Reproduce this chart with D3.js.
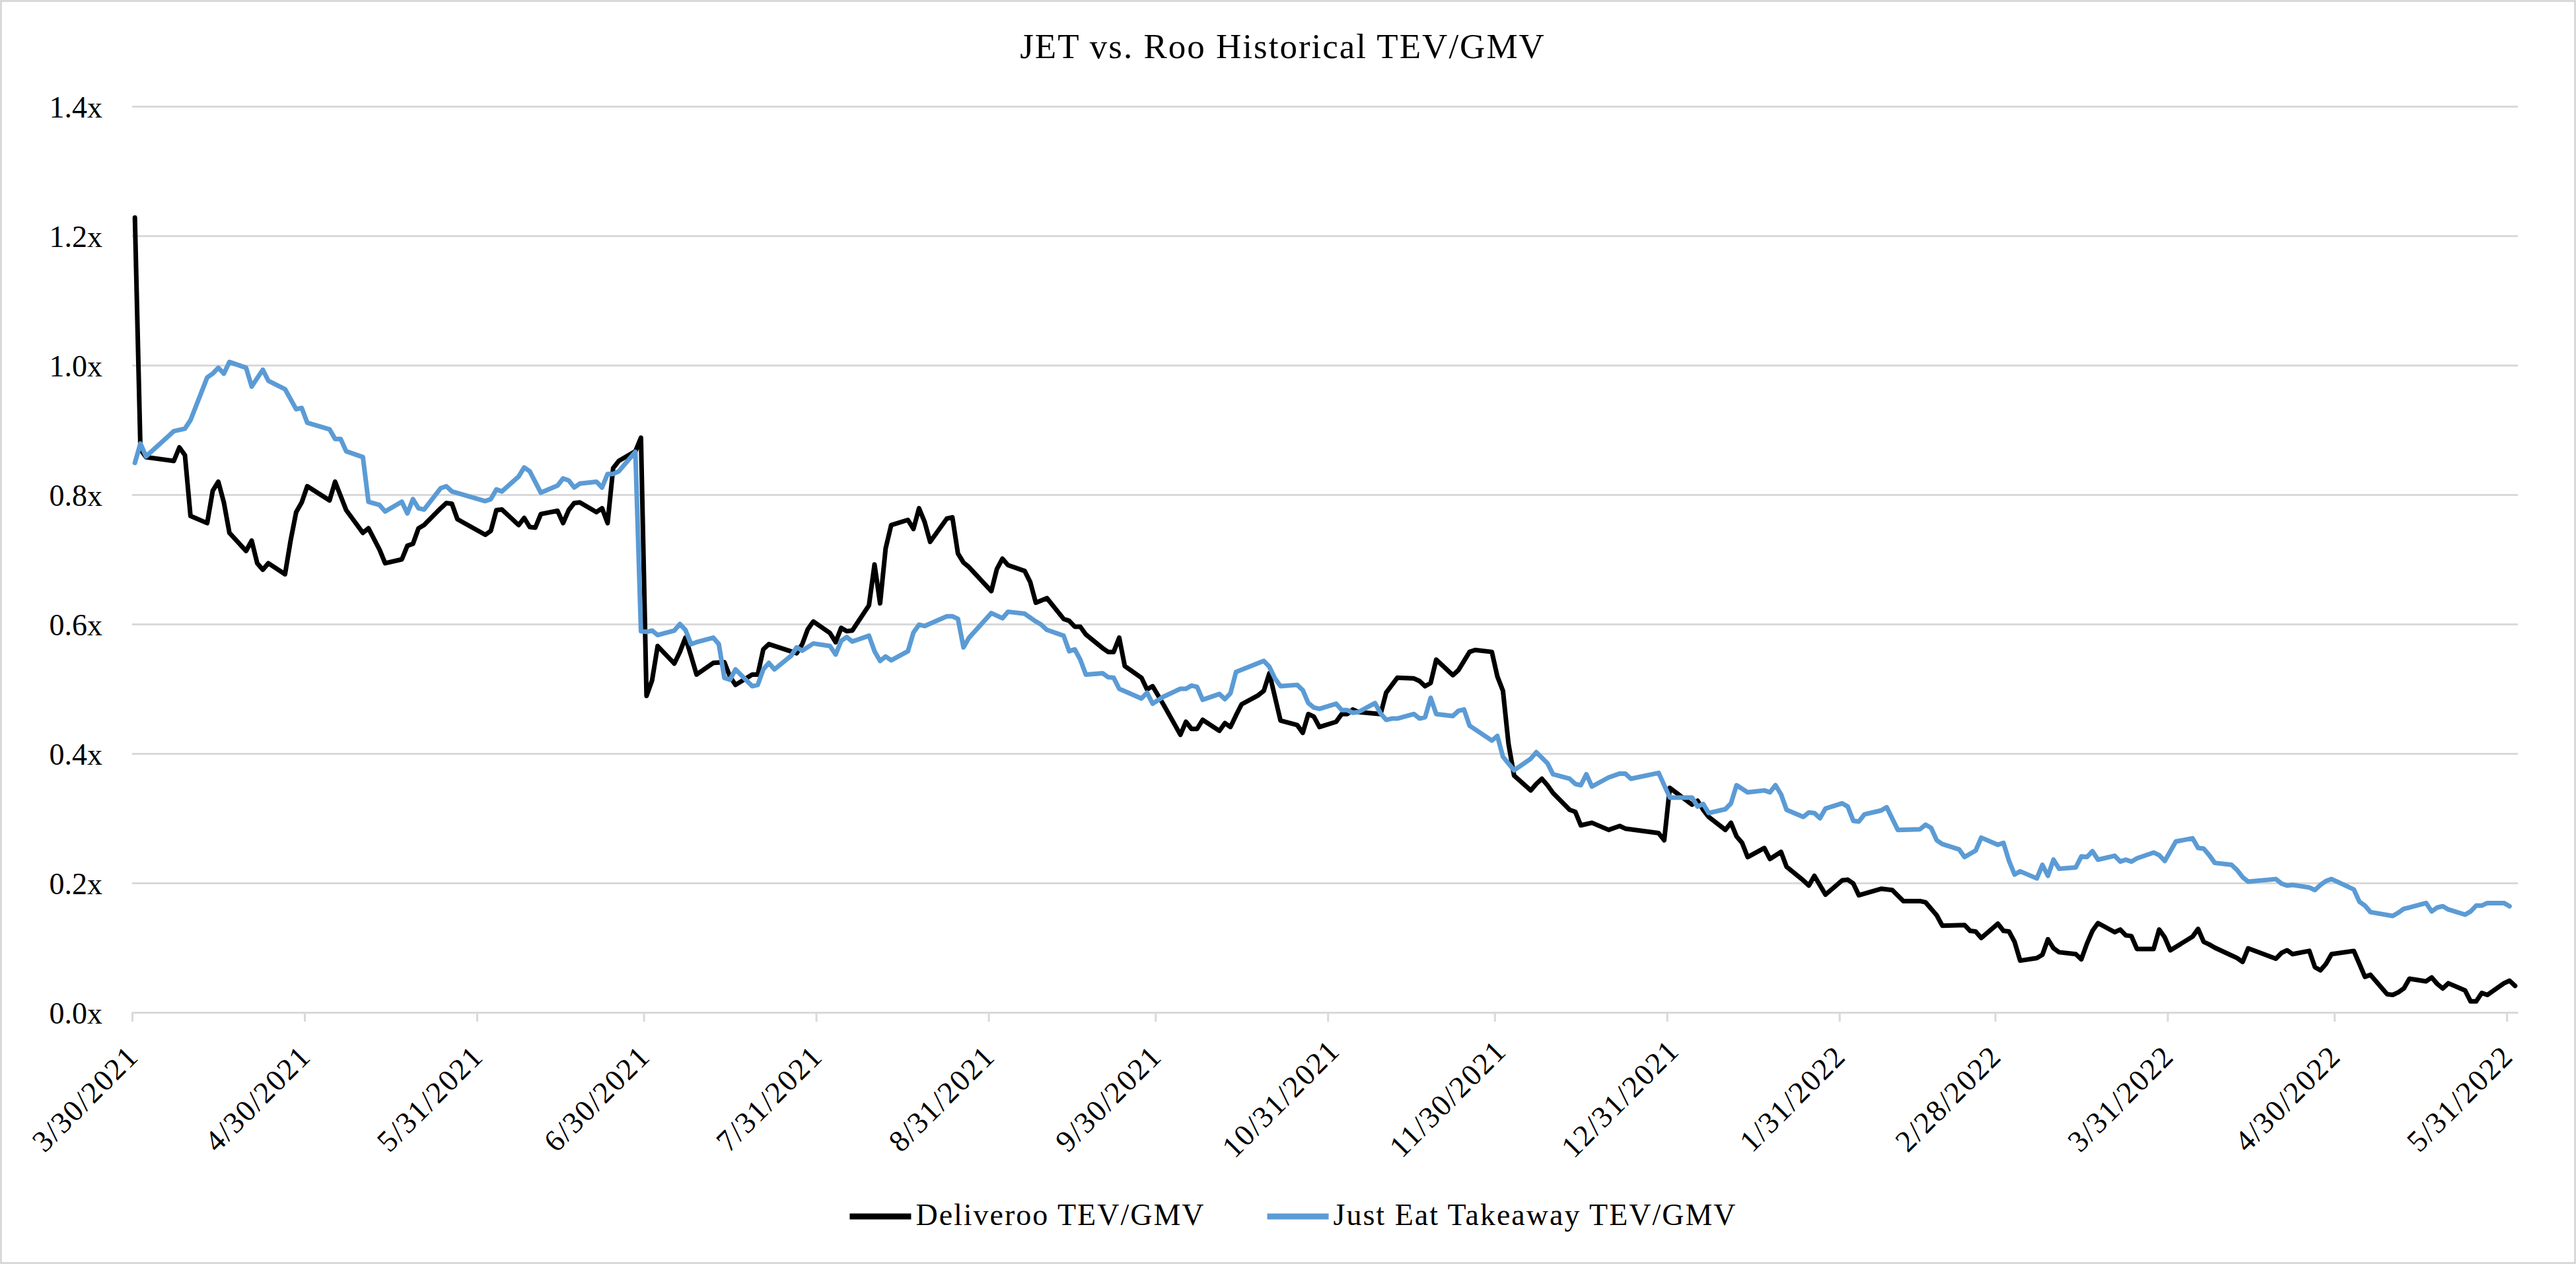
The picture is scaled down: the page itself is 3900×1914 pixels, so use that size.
<!DOCTYPE html>
<html>
<head>
<meta charset="utf-8">
<script src="https://cdn.jsdelivr.net/npm/d3@7"></script>
<style>
  body { margin: 0; background: #fff; }
  text { font-family: "Palatino Linotype", "Book Antiqua", Palatino, "Liberation Serif", serif; fill: #000; }
</style>
</head>
<body>
<svg id="chart" width="3900" height="1914"></svg>
<script>
// chart data
var chartTitle = "JET vs. Roo Historical TEV/GMV";
var seriesNames = ["Deliveroo TEV/GMV", "Just Eat Takeaway TEV/GMV"];
var seriesColors = ["#000000", "#5B9BD5"];
var xTickLabels = ["3/30/2021", "4/30/2021", "5/31/2021", "6/30/2021", "7/31/2021", "8/31/2021", "9/30/2021",
  "10/31/2021", "11/30/2021", "12/31/2021", "1/31/2022", "2/28/2022", "3/31/2022", "4/30/2022", "5/31/2022"];
var yTicks = [0, 0.2, 0.4, 0.6, 0.8, 1.0, 1.2, 1.4];
var xDomain = ["2021-03-30", "2022-06-02"];

// Deliveroo TEV/GMV
var deliveroo = [
  ["2021-03-30",1.228],["2021-03-31",0.870],["2021-04-01",0.858],["2021-04-06",0.852],["2021-04-07",0.873],
  ["2021-04-08",0.861],["2021-04-09",0.767],["2021-04-12",0.756],["2021-04-13",0.806],["2021-04-14",0.820],
  ["2021-04-15",0.788],["2021-04-16",0.741],["2021-04-19",0.713],["2021-04-20",0.729],["2021-04-21",0.694],
  ["2021-04-22",0.684],["2021-04-23",0.694],["2021-04-26",0.677],["2021-04-27",0.729],["2021-04-28",0.773],
  ["2021-04-29",0.788],["2021-04-30",0.813],["2021-05-04",0.791],["2021-05-05",0.820],["2021-05-07",0.776],
  ["2021-05-10",0.741],["2021-05-11",0.748],["2021-05-13",0.715],["2021-05-14",0.694],["2021-05-17",0.700],
  ["2021-05-18",0.721],["2021-05-19",0.724],["2021-05-20",0.748],["2021-05-21",0.753],["2021-05-24",0.779],
  ["2021-05-25",0.787],["2021-05-26",0.786],["2021-05-27",0.762],["2021-06-01",0.738],["2021-06-02",0.744],
  ["2021-06-03",0.776],["2021-06-04",0.777],["2021-06-07",0.753],["2021-06-08",0.764],["2021-06-09",0.750],
  ["2021-06-10",0.749],["2021-06-11",0.770],["2021-06-14",0.775],["2021-06-15",0.756],["2021-06-16",0.776],
  ["2021-06-17",0.787],["2021-06-18",0.788],["2021-06-21",0.773],["2021-06-22",0.779],["2021-06-23",0.756],
  ["2021-06-24",0.841],["2021-06-25",0.852],["2021-06-28",0.867],["2021-06-29",0.888],["2021-06-30",0.489],
  ["2021-07-01",0.513],["2021-07-02",0.566],["2021-07-05",0.539],["2021-07-06",0.557],["2021-07-07",0.579],
  ["2021-07-08",0.551],["2021-07-09",0.522],["2021-07-12",0.540],["2021-07-14",0.541],["2021-07-15",0.519],
  ["2021-07-16",0.506],["2021-07-19",0.522],["2021-07-20",0.522],["2021-07-21",0.561],["2021-07-22",0.569],
  ["2021-07-27",0.555],["2021-07-28",0.569],["2021-07-29",0.592],["2021-07-30",0.604],["2021-08-02",0.586],
  ["2021-08-03",0.572],["2021-08-04",0.594],["2021-08-05",0.589],["2021-08-06",0.590],["2021-08-09",0.629],
  ["2021-08-10",0.692],["2021-08-11",0.632],["2021-08-12",0.717],["2021-08-13",0.753],["2021-08-16",0.761],
  ["2021-08-17",0.747],["2021-08-18",0.779],["2021-08-19",0.758],["2021-08-20",0.727],["2021-08-23",0.763],
  ["2021-08-24",0.765],["2021-08-25",0.709],["2021-08-26",0.695],["2021-08-27",0.688],["2021-08-31",0.651],
  ["2021-09-01",0.685],["2021-09-02",0.701],["2021-09-03",0.691],["2021-09-06",0.682],["2021-09-07",0.665],
  ["2021-09-08",0.633],["2021-09-10",0.640],["2021-09-13",0.608],["2021-09-14",0.605],["2021-09-15",0.596],
  ["2021-09-16",0.596],["2021-09-17",0.584],["2021-09-20",0.563],["2021-09-21",0.557],["2021-09-22",0.557],
  ["2021-09-23",0.579],["2021-09-24",0.535],["2021-09-27",0.517],["2021-09-28",0.499],["2021-09-29",0.504],
  ["2021-10-01",0.475],["2021-10-04",0.429],["2021-10-05",0.449],["2021-10-06",0.438],["2021-10-07",0.438],
  ["2021-10-08",0.452],["2021-10-11",0.435],["2021-10-12",0.447],["2021-10-13",0.441],["2021-10-14",0.459],
  ["2021-10-15",0.476],["2021-10-18",0.490],["2021-10-19",0.497],["2021-10-20",0.524],["2021-10-22",0.451],
  ["2021-10-25",0.444],["2021-10-26",0.432],["2021-10-27",0.461],["2021-10-28",0.457],["2021-10-29",0.441],
  ["2021-11-01",0.449],["2021-11-02",0.461],["2021-11-03",0.461],["2021-11-04",0.468],["2021-11-05",0.464],
  ["2021-11-09",0.461],["2021-11-10",0.494],["2021-11-12",0.517],["2021-11-15",0.516],["2021-11-16",0.512],
  ["2021-11-17",0.504],["2021-11-18",0.509],["2021-11-19",0.545],["2021-11-22",0.521],["2021-11-23",0.529],
  ["2021-11-25",0.557],["2021-11-26",0.560],["2021-11-29",0.557],["2021-11-30",0.519],["2021-12-01",0.497],
  ["2021-12-02",0.415],["2021-12-03",0.366],["2021-12-06",0.343],["2021-12-07",0.353],["2021-12-08",0.361],
  ["2021-12-09",0.351],["2021-12-10",0.339],["2021-12-13",0.313],["2021-12-14",0.310],["2021-12-15",0.289],
  ["2021-12-17",0.293],["2021-12-20",0.282],["2021-12-22",0.288],["2021-12-23",0.284],["2021-12-29",0.277],
  ["2021-12-30",0.266],["2021-12-31",0.347],["2022-01-02",0.334],["2022-01-04",0.321],["2022-01-05",0.327],
  ["2022-01-06",0.313],["2022-01-07",0.302],["2022-01-10",0.282],["2022-01-11",0.293],["2022-01-12",0.272],
  ["2022-01-13",0.262],["2022-01-14",0.240],["2022-01-17",0.254],["2022-01-18",0.237],["2022-01-20",0.248],
  ["2022-01-21",0.225],["2022-01-24",0.204],["2022-01-25",0.196],["2022-01-26",0.211],["2022-01-28",0.182],
  ["2022-01-31",0.204],["2022-02-01",0.205],["2022-02-02",0.199],["2022-02-03",0.181],["2022-02-07",0.191],
  ["2022-02-09",0.189],["2022-02-11",0.172],["2022-02-14",0.172],["2022-02-15",0.170],["2022-02-17",0.150],
  ["2022-02-18",0.134],["2022-02-22",0.135],["2022-02-23",0.126],["2022-02-24",0.125],["2022-02-25",0.115],
  ["2022-02-28",0.137],["2022-03-01",0.126],["2022-03-02",0.125],["2022-03-03",0.109],["2022-03-04",0.080],
  ["2022-03-07",0.084],["2022-03-08",0.089],["2022-03-09",0.113],["2022-03-10",0.099],["2022-03-11",0.093],
  ["2022-03-14",0.090],["2022-03-15",0.082],["2022-03-16",0.106],["2022-03-17",0.126],["2022-03-18",0.138],
  ["2022-03-21",0.124],["2022-03-22",0.128],["2022-03-23",0.119],["2022-03-24",0.118],["2022-03-25",0.098],
  ["2022-03-28",0.098],["2022-03-29",0.128],["2022-03-30",0.116],["2022-03-31",0.096],["2022-04-04",0.117],
  ["2022-04-05",0.129],["2022-04-06",0.109],["2022-04-07",0.105],["2022-04-08",0.100],["2022-04-11",0.088],
  ["2022-04-12",0.084],["2022-04-13",0.078],["2022-04-14",0.099],["2022-04-19",0.083],["2022-04-20",0.092],
  ["2022-04-21",0.096],["2022-04-22",0.090],["2022-04-25",0.095],["2022-04-26",0.070],["2022-04-27",0.065],
  ["2022-04-28",0.075],["2022-04-29",0.090],["2022-05-03",0.095],["2022-05-04",0.075],["2022-05-05",0.055],
  ["2022-05-06",0.058],["2022-05-09",0.028],["2022-05-10",0.027],["2022-05-11",0.031],["2022-05-12",0.037],
  ["2022-05-13",0.052],["2022-05-16",0.048],["2022-05-17",0.054],["2022-05-18",0.044],["2022-05-19",0.037],
  ["2022-05-20",0.045],["2022-05-23",0.034],["2022-05-24",0.017],["2022-05-25",0.017],["2022-05-26",0.030],
  ["2022-05-27",0.027],["2022-05-30",0.045],["2022-05-31",0.049],["2022-06-01",0.041]
];

// Just Eat Takeaway TEV/GMV
var justEat = [
  ["2021-03-30",0.849],["2021-03-31",0.879],["2021-04-01",0.859],["2021-04-06",0.898],["2021-04-08",0.902],
  ["2021-04-09",0.915],["2021-04-12",0.981],["2021-04-13",0.987],["2021-04-14",0.996],["2021-04-15",0.987],
  ["2021-04-16",1.005],["2021-04-19",0.996],["2021-04-20",0.967],["2021-04-22",0.993],["2021-04-23",0.976],
  ["2021-04-26",0.963],["2021-04-28",0.932],["2021-04-29",0.934],["2021-04-30",0.911],["2021-05-04",0.901],
  ["2021-05-05",0.886],["2021-05-06",0.886],["2021-05-07",0.867],["2021-05-10",0.858],["2021-05-11",0.789],
  ["2021-05-13",0.784],["2021-05-14",0.774],["2021-05-17",0.789],["2021-05-18",0.771],["2021-05-19",0.793],
  ["2021-05-20",0.779],["2021-05-21",0.777],["2021-05-24",0.810],["2021-05-25",0.813],["2021-05-26",0.805],
  ["2021-06-01",0.790],["2021-06-02",0.793],["2021-06-03",0.808],["2021-06-04",0.805],["2021-06-07",0.828],
  ["2021-06-08",0.842],["2021-06-09",0.836],["2021-06-11",0.803],["2021-06-14",0.814],["2021-06-15",0.825],
  ["2021-06-16",0.822],["2021-06-17",0.811],["2021-06-18",0.817],["2021-06-21",0.820],["2021-06-22",0.811],
  ["2021-06-23",0.832],["2021-06-24",0.832],["2021-06-25",0.836],["2021-06-28",0.866],["2021-06-29",0.589],
  ["2021-06-30",0.588],["2021-07-01",0.590],["2021-07-02",0.583],["2021-07-05",0.590],["2021-07-06",0.600],
  ["2021-07-07",0.591],["2021-07-08",0.569],["2021-07-09",0.572],["2021-07-12",0.579],["2021-07-13",0.569],
  ["2021-07-14",0.517],["2021-07-15",0.514],["2021-07-16",0.530],["2021-07-19",0.504],["2021-07-20",0.506],
  ["2021-07-21",0.530],["2021-07-22",0.540],["2021-07-23",0.530],["2021-07-26",0.551],["2021-07-27",0.564],
  ["2021-07-28",0.559],["2021-07-30",0.570],["2021-08-02",0.566],["2021-08-03",0.553],["2021-08-04",0.574],
  ["2021-08-05",0.580],["2021-08-06",0.573],["2021-08-09",0.582],["2021-08-10",0.558],["2021-08-11",0.543],
  ["2021-08-12",0.550],["2021-08-13",0.544],["2021-08-16",0.558],["2021-08-17",0.587],["2021-08-18",0.599],
  ["2021-08-19",0.597],["2021-08-23",0.612],["2021-08-24",0.612],["2021-08-25",0.608],["2021-08-26",0.564],
  ["2021-08-27",0.579],["2021-08-31",0.617],["2021-09-02",0.609],["2021-09-03",0.619],["2021-09-06",0.616],
  ["2021-09-08",0.604],["2021-09-09",0.599],["2021-09-10",0.591],["2021-09-13",0.582],["2021-09-14",0.558],
  ["2021-09-15",0.561],["2021-09-16",0.545],["2021-09-17",0.522],["2021-09-20",0.524],["2021-09-21",0.518],
  ["2021-09-22",0.517],["2021-09-23",0.500],["2021-09-27",0.485],["2021-09-28",0.494],["2021-09-29",0.477],
  ["2021-10-01",0.488],["2021-10-04",0.500],["2021-10-05",0.500],["2021-10-06",0.505],["2021-10-07",0.503],
  ["2021-10-08",0.483],["2021-10-11",0.492],["2021-10-12",0.484],["2021-10-13",0.493],["2021-10-14",0.526],
  ["2021-10-19",0.543],["2021-10-20",0.534],["2021-10-21",0.516],["2021-10-22",0.504],["2021-10-25",0.506],
  ["2021-10-26",0.498],["2021-10-27",0.478],["2021-10-28",0.471],["2021-10-29",0.469],["2021-11-01",0.477],
  ["2021-11-02",0.467],["2021-11-03",0.467],["2021-11-04",0.463],["2021-11-05",0.464],["2021-11-08",0.478],
  ["2021-11-09",0.462],["2021-11-10",0.452],["2021-11-11",0.454],["2021-11-12",0.454],["2021-11-15",0.461],
  ["2021-11-16",0.454],["2021-11-17",0.456],["2021-11-18",0.486],["2021-11-19",0.461],["2021-11-22",0.458],
  ["2021-11-23",0.466],["2021-11-24",0.468],["2021-11-25",0.443],["2021-11-29",0.420],["2021-11-30",0.427],
  ["2021-12-01",0.395],["2021-12-03",0.374],["2021-12-06",0.392],["2021-12-07",0.402],["2021-12-09",0.385],
  ["2021-12-10",0.368],["2021-12-13",0.361],["2021-12-14",0.353],["2021-12-15",0.351],["2021-12-16",0.368],
  ["2021-12-17",0.349],["2021-12-20",0.363],["2021-12-22",0.369],["2021-12-23",0.369],["2021-12-24",0.361],
  ["2021-12-29",0.370],["2021-12-31",0.332],["2022-01-04",0.332],["2022-01-05",0.318],["2022-01-06",0.322],
  ["2022-01-07",0.308],["2022-01-10",0.314],["2022-01-11",0.323],["2022-01-12",0.351],["2022-01-14",0.340],
  ["2022-01-17",0.343],["2022-01-18",0.340],["2022-01-19",0.351],["2022-01-20",0.337],["2022-01-21",0.313],
  ["2022-01-24",0.302],["2022-01-25",0.309],["2022-01-26",0.308],["2022-01-27",0.300],["2022-01-28",0.315],
  ["2022-01-31",0.323],["2022-02-01",0.318],["2022-02-02",0.296],["2022-02-03",0.295],["2022-02-04",0.306],
  ["2022-02-07",0.312],["2022-02-08",0.317],["2022-02-10",0.282],["2022-02-14",0.283],["2022-02-15",0.290],
  ["2022-02-16",0.285],["2022-02-17",0.266],["2022-02-18",0.260],["2022-02-21",0.252],["2022-02-22",0.240],
  ["2022-02-24",0.250],["2022-02-25",0.270],["2022-02-28",0.259],["2022-03-01",0.262],["2022-03-02",0.234],
  ["2022-03-03",0.213],["2022-03-04",0.218],["2022-03-07",0.207],["2022-03-08",0.228],["2022-03-09",0.211],
  ["2022-03-10",0.236],["2022-03-11",0.222],["2022-03-14",0.224],["2022-03-15",0.241],["2022-03-16",0.240],
  ["2022-03-17",0.249],["2022-03-18",0.236],["2022-03-21",0.242],["2022-03-22",0.233],["2022-03-23",0.236],
  ["2022-03-24",0.233],["2022-03-25",0.238],["2022-03-28",0.247],["2022-03-29",0.243],["2022-03-30",0.234],
  ["2022-03-31",0.249],["2022-04-01",0.264],["2022-04-04",0.269],["2022-04-05",0.254],["2022-04-06",0.253],
  ["2022-04-07",0.243],["2022-04-08",0.231],["2022-04-11",0.228],["2022-04-12",0.220],["2022-04-13",0.209],
  ["2022-04-14",0.202],["2022-04-19",0.206],["2022-04-20",0.199],["2022-04-21",0.196],["2022-04-22",0.197],
  ["2022-04-25",0.193],["2022-04-26",0.189],["2022-04-27",0.197],["2022-04-28",0.203],["2022-04-29",0.206],
  ["2022-05-03",0.190],["2022-05-04",0.171],["2022-05-05",0.165],["2022-05-06",0.155],["2022-05-10",0.149],
  ["2022-05-11",0.154],["2022-05-12",0.160],["2022-05-13",0.162],["2022-05-16",0.169],["2022-05-17",0.156],
  ["2022-05-18",0.162],["2022-05-19",0.164],["2022-05-20",0.159],["2022-05-23",0.151],["2022-05-24",0.156],
  ["2022-05-25",0.165],["2022-05-26",0.165],["2022-05-27",0.169],["2022-05-30",0.169],["2022-05-31",0.164]
];

var width = 3900, height = 1914;
var margin = {top: 161, right: 88, bottom: 381, left: 200};
var plotW = width - margin.left - margin.right,
    plotH = height - margin.top - margin.bottom;
var gridColor = "#d9d9d9";

var parseIso = d3.timeParse("%Y-%m-%d");
var parseLabel = d3.timeParse("%m/%d/%Y");

var svg = d3.select("#chart");

// outer frame like the Excel chart area
svg.append("rect")
    .attr("x", 1.5).attr("y", 1.5)
    .attr("width", width - 3).attr("height", height - 3)
    .attr("fill", "#fff")
    .attr("stroke", gridColor)
    .attr("stroke-width", 3);

svg.append("text")
    .attr("x", 1942)
    .attr("y", 88)
    .attr("text-anchor", "middle")
    .style("font-size", "53px")
    .style("letter-spacing", "2px")
    .text(chartTitle);

var g = svg.append("g")
    .attr("transform", "translate(" + margin.left + "," + margin.top + ")");

var x = d3.scaleTime()
    .domain(xDomain.map(parseIso))
    .range([0, plotW]);

var y = d3.scaleLinear()
    .domain([0, 1.4])
    .range([plotH, 0]);

// y gridlines + labels
var yAxis = d3.axisLeft(y)
    .tickValues(yTicks)
    .tickSize(-plotW)
    .tickPadding(45)
    .tickFormat(function(d) { return d3.format(".1f")(d) + "x"; });

var yg = g.append("g").call(yAxis);
yg.select(".domain").remove();
yg.selectAll(".tick line").attr("stroke", gridColor).attr("stroke-width", 3);
yg.selectAll(".tick text")
    .style("font-size", "46px")
    .style("font-family", null)
    .attr("dy", "0.35em");

// x axis with month-end ticks, labels at 45 degrees
var xTickDates = xTickLabels.map(parseLabel);
var xAxis = d3.axisBottom(x)
    .tickValues(xTickDates)
    .tickSize(14)
    .tickSizeOuter(0)
    .tickFormat(function(d, i) { return xTickLabels[i]; });

var xg = g.append("g")
    .attr("transform", "translate(0," + plotH + ")")
    .call(xAxis);
xg.select(".domain").attr("stroke", gridColor).attr("stroke-width", 3);
xg.selectAll(".tick line").attr("stroke", gridColor).attr("stroke-width", 3);
xg.selectAll(".tick text")
    .attr("y", 0)
    .attr("dy", "0.35em")
    .attr("text-anchor", "middle")
    .attr("transform", "translate(-72,130) rotate(-45)")
    .style("font-size", "46px")
    .style("letter-spacing", "2px")
    .style("font-family", null);

// each value sits in the middle of its day (Excel date axis)
var line = d3.line()
    .x(function(d) { return x(d3.timeHour.offset(parseIso(d[0]), 12)); })
    .y(function(d) { return y(d[1]); });

[deliveroo, justEat].forEach(function(series, i) {
  g.append("path")
      .datum(series)
      .attr("fill", "none")
      .attr("stroke", seriesColors[i])
      .attr("stroke-width", 7)
      .attr("stroke-linejoin", "round")
      .attr("stroke-linecap", "round")
      .attr("d", line);
});

// legend, centred under the plot
var legend = svg.append("g");
var items = legend.selectAll("g.item")
    .data(seriesNames)
    .enter()
  .append("g")
    .attr("class", "item");

items.append("line")
    .attr("x1", 0).attr("x2", 93)
    .attr("y1", 0).attr("y2", 0)
    .attr("stroke", function(d, i) { return seriesColors[i]; })
    .attr("stroke-width", 9);

items.append("text")
    .attr("x", 100)
    .attr("y", 13)
    .style("font-size", "46px")
    .style("letter-spacing", "2px")
    .text(function(d) { return d; });

var offset = 0, itemGap = 94;
items.each(function() {
  var w = this.getBBox().width;
  d3.select(this).attr("transform", "translate(" + offset + ",0)");
  offset += w + itemGap;
});
var legendW = offset - itemGap;
legend.attr("transform", "translate(" + (1958 - legendW / 2) + ",1842)");
</script>
</body>
</html>
